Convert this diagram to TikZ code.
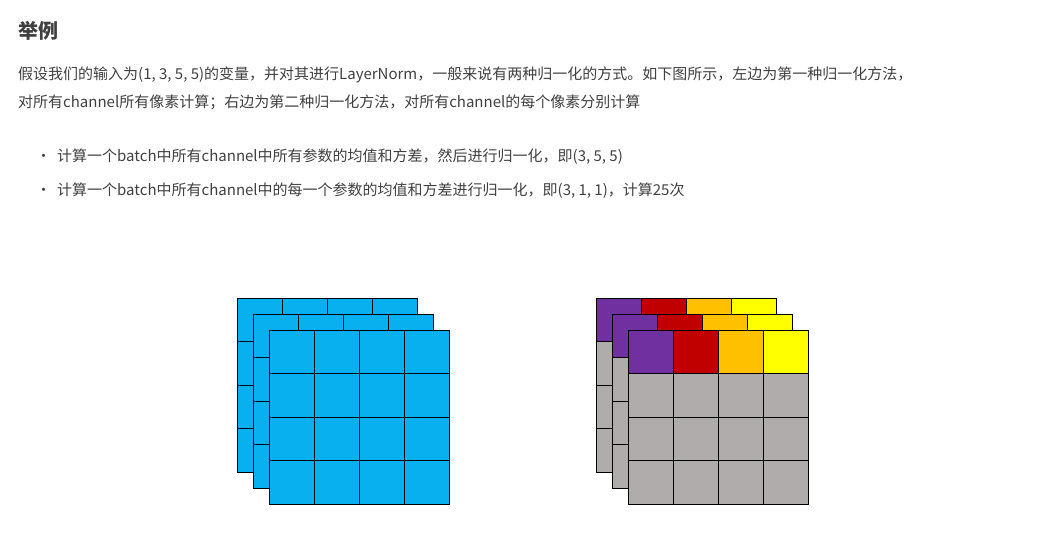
\documentclass[tikz,border=0pt]{standalone}
\usepackage{fontspec}
\setmainfont{Noto Sans CJK SC}
\definecolor{txt}{HTML}{404040}
\definecolor{cblue}{HTML}{08B0EF}
\definecolor{cpur}{HTML}{7030A0}
\definecolor{cred}{HTML}{C00000}
\definecolor{corg}{HTML}{FFC000}
\definecolor{cyel}{HTML}{FFFF00}
\definecolor{cgray}{HTML}{AFACAB}
\begin{document}
\begin{tikzpicture}[x=1pt,y=-1pt,
  body/.style={anchor=west,inner sep=0,text=txt,font=\fontsize{15}{18}\selectfont},
  cell/.style={draw=black,line width=1pt}]
\useasboundingbox (0,0) rectangle (1048,536);
\node[anchor=west,inner sep=0,text=txt,font=\fontsize{20}{24}\selectfont\bfseries] (title) at (18,31) {举例};
\node[body] (p1) at (18,75) {假设我们的输入为(1, 3, 5, 5)的变量，并对其进行LayerNorm，一般来说有两种归一化的方式。如下图所示，左边为第一种归一化方法，};
\node[body] (p2) at (18,102) {对所有channel所有像素计算；右边为第二种归一化方法，对所有channel的每个像素分别计算};
\node[body] (b1) at (36,157) {•\hspace{6pt}计算一个batch中所有channel中所有参数的均值和方差，然后进行归一化，即(3, 5, 5)};
\node[body] (b2) at (36,191) {•\hspace{6pt}计算一个batch中所有channel中的每一个参数的均值和方差进行归一化，即(3, 1, 1)，计算25次};
% left stack
\foreach \o in {0,16,32}{
  \foreach \i in {0,...,3}{
    \foreach \j in {0,...,3}{
      \filldraw[cell,fill=cblue] (237+\o+45*\i,298+\o+43.5*\j) rectangle ++(45,43.5);
    }}}
% right stack
\foreach \o in {0,16,32}{
  \foreach \i/\c in {0/cpur,1/cred,2/corg,3/cyel}{
    \filldraw[cell,fill=\c] (596+\o+45*\i,298+\o) rectangle ++(45,43.5);
    \foreach \j in {1,...,3}{
      \filldraw[cell,fill=cgray] (596+\o+45*\i,298+\o+43.5*\j) rectangle ++(45,43.5);
    }}}
\end{tikzpicture}
\end{document}
